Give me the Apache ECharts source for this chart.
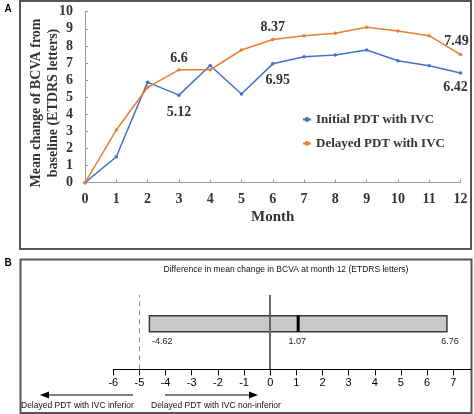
<!DOCTYPE html>
<html>
<head>
<meta charset="utf-8">
<script src="https://cdn.jsdelivr.net/npm/echarts@6/dist/echarts.min.js"></script>
<style>
html,body{margin:0;padding:0;background:#fff;}
#chart{width:474px;height:414px;}
</style>
</head>
<body>
<div id="chart"></div>
<script>
// ---- Panel A data ----
const months = [0,1,2,3,4,5,6,7,8,9,10,11,12];
const initialPDT = [0, 1.52, 5.88, 5.12, 6.85, 5.19, 6.95, 7.37, 7.47, 7.76, 7.13, 6.84, 6.42];
const delayedPDT = [0, 3.08, 5.58, 6.6, 6.6, 7.76, 8.37, 8.6, 8.74, 9.09, 8.87, 8.6, 7.49];
const seriesNames = ['Initial PDT with IVC', 'Delayed PDT with IVC'];
const labelledMonths = [3, 6, 12];
const yTitleA = 'Mean change of BCVA from\nbaseline (ETDRS letters)';
const xTitleA = 'Month';
// ---- Panel B data ----
const ciLower = -4.62;
const ciUpper = 6.76;
const meanDiff = 1.07;
const nonInferiorityMargin = -5;
const diffTicks = [-6,-5,-4,-3,-2,-1,0,1,2,3,4,5,6,7];
const panelBTitle = 'Difference in mean change in BCVA at month 12 (ETDRS letters)';
const leftArrowText = 'Delayed PDT with IVC inferior';
const rightArrowText = 'Delayed PDT with IVC non-inferior';

const SERIF = "'Liberation Serif', 'DejaVu Serif', serif";
const SANS = "'Liberation Sans', Arial, sans-serif";

// label placement per series (style/layout, not data)
const labelLayoutInitial = {
  3: {position: 'bottom', distance: 8, offset: [0, 0]},
  6: {position: 'bottom', distance: 8, offset: [5, 0]},
  12: {position: 'bottom', distance: 6, offset: [-5, 0]}
};
const labelLayoutDelayed = {
  3: {position: 'top', distance: 3, offset: [0, 0]},
  6: {position: 'top', distance: 3, offset: [0, 0]},
  12: {position: 'top', distance: 4, offset: [-4, 0]}
};

function buildLineData(values, layout) {
  return months.map((m, i) => {
    const item = {value: [m, values[i]]};
    if (labelledMonths.indexOf(m) >= 0) {
      const l = layout[m];
      item.label = {
        show: true, position: l.position, distance: l.distance, offset: l.offset,
        formatter: (p) => String(p.value[1]),
        fontFamily: SERIF, fontWeight: 'bold', fontSize: 14, color: '#333'
      };
    }
    return item;
  });
}

const chart = echarts.init(document.getElementById('chart'), null, {renderer: 'canvas'});

const option = {
  animation: false,
  backgroundColor: '#fff',
  title: {
    text: panelBTitle,
    left: 281, top: 260, textAlign: 'center',
    textStyle: {fontFamily: SANS, fontSize: 8.5, fontWeight: 'normal', color: '#111'}
  },
  legend: {
    data: seriesNames,
    orient: 'vertical',
    left: 297, top: 108,
    itemWidth: 8, itemHeight: 6, itemGap: 11,
    textStyle: {fontFamily: SERIF, fontWeight: 'bold', fontSize: 13, color: '#333'}
  },
  grid: [
    {left: 85, top: 11.7, width: 375.5, height: 171},
    {left: 113.3, right: 3, top: 295, bottom: 44.7}
  ],
  xAxis: [
    {
      gridIndex: 0, type: 'value', min: 0, max: 12, interval: 1,
      name: xTitleA, nameLocation: 'middle', nameGap: 27,
      nameTextStyle: {fontFamily: SERIF, fontWeight: 'bold', fontSize: 15, color: '#333'},
      axisLine: {lineStyle: {color: '#999', width: 1}},
      axisTick: {inside: true, length: 3, lineStyle: {color: '#999'}},
      axisLabel: {margin: 10, fontFamily: SERIF, fontWeight: 'bold', fontSize: 14, color: '#333'},
      splitLine: {show: false}
    },
    {
      gridIndex: 1, type: 'value', min: -6, max: 7.68,
      axisLine: {onZero: false, lineStyle: {color: '#000', width: 1}},
      axisTick: {inside: false, length: 6, customValues: diffTicks, lineStyle: {color: '#000'}},
      axisLabel: {margin: 8, customValues: diffTicks, fontFamily: SANS, fontSize: 11, color: '#000'},
      splitLine: {show: false}
    }
  ],
  yAxis: [
    {
      gridIndex: 0, type: 'value', min: 0, max: 10, interval: 1,
      axisLine: {show: true, lineStyle: {color: '#999', width: 1}},
      axisTick: {show: true, inside: true, length: 3, lineStyle: {color: '#999'}},
      axisLabel: {margin: 12, fontFamily: SERIF, fontWeight: 'bold', fontSize: 14, color: '#333'},
      splitLine: {show: false}
    },
    {gridIndex: 1, type: 'value', min: 0, max: 1, show: false}
  ],
  series: [
    {
      name: seriesNames[0], type: 'line', xAxisIndex: 0, yAxisIndex: 0,
      data: buildLineData(initialPDT, labelLayoutInitial),
      color: '#4472C4', lineStyle: {width: 1.5, color: '#4472C4'},
      symbol: 'circle', symbolSize: 3.5, itemStyle: {color: '#4472C4'}
    },
    {
      name: seriesNames[1], type: 'line', xAxisIndex: 0, yAxisIndex: 0,
      data: buildLineData(delayedPDT, labelLayoutDelayed),
      color: '#ED7D31', lineStyle: {width: 1.5, color: '#ED7D31'},
      symbol: 'circle', symbolSize: 3.5, itemStyle: {color: '#ED7D31'}
    },
    {
      type: 'line', xAxisIndex: 1, yAxisIndex: 1, data: [], silent: true,
      markLine: {
        silent: true, symbol: 'none', animation: false,
        label: {show: false},
        data: [
          {xAxis: 0, lineStyle: {color: '#666', width: 2, type: 'solid'}},
          {xAxis: nonInferiorityMargin, lineStyle: {color: '#888', width: 1, type: [5, 4]}}
        ]
      }
    },
    {
      type: 'custom', xAxisIndex: 1, yAxisIndex: 1,
      data: [[ciLower, ciUpper, meanDiff]],
      renderItem: function (params, api) {
        const cs = params.coordSys;
        const lo = api.coord([api.value(0), 0])[0];
        const hi = api.coord([api.value(1), 0])[0];
        const mid = api.coord([api.value(2), 0])[0];
        const yc = cs.y + cs.height * 0.386;
        const h = 16;
        const txt = {fontFamily: SANS, fontSize: 9, fill: '#222', verticalAlign: 'middle'};
        return {
          type: 'group',
          children: [
            {type: 'rect', shape: {x: lo, y: yc - h / 2, width: hi - lo, height: h},
             style: {fill: '#c9c9c9', stroke: '#3a3a3a', lineWidth: 1.5}},
            {type: 'line', shape: {x1: mid, y1: yc - h / 2, x2: mid, y2: yc + h / 2},
             style: {stroke: '#000', lineWidth: 3}},
            {type: 'text', x: lo + 2.5, y: yc + 18,
             style: Object.assign({text: api.value(0).toFixed(2), align: 'left'}, txt)},
            {type: 'text', x: mid - 1, y: yc + 18,
             style: Object.assign({text: api.value(2).toFixed(2), align: 'center'}, txt)},
            {type: 'text', x: hi + 3, y: yc + 18,
             style: Object.assign({text: api.value(1).toFixed(2), align: 'center'}, txt)}
          ]
        };
      }
    }
  ],
  graphic: [
    {type: 'rect', shape: {x: 20, y: 1, width: 451, height: 248}, style: {fill: 'none', stroke: '#555', lineWidth: 2}, z: 0},
    {type: 'rect', shape: {x: 20.5, y: 259.5, width: 451, height: 153.5}, style: {fill: 'none', stroke: '#555', lineWidth: 2}, z: 0},
    {type: 'text', x: 8, y: 9.5, style: {text: 'A', fontFamily: SANS, fontWeight: 'bold', fontSize: 10, fill: '#000', align: 'center', verticalAlign: 'middle'}},
    {type: 'text', x: 8, y: 263.5, style: {text: 'B', fontFamily: SANS, fontWeight: 'bold', fontSize: 10, fill: '#000', align: 'center', verticalAlign: 'middle'}},
    // y-axis title of panel A
    {type: 'text', x: 45, y: 103, rotation: Math.PI / 2,
     style: {text: yTitleA, fontFamily: SERIF, fontWeight: 'bold', fontSize: 14, lineHeight: 17, fill: '#333', align: 'center', verticalAlign: 'middle'}},
    // arrows
    {type: 'line', shape: {x1: 133, y1: 395, x2: 46, y2: 395}, style: {stroke: '#000', lineWidth: 1}},
    {type: 'polygon', shape: {points: [[40, 395], [49, 391.5], [49, 398.5]]}, style: {fill: '#000'}},
    {type: 'line', shape: {x1: 165, y1: 395, x2: 252, y2: 395}, style: {stroke: '#000', lineWidth: 1}},
    {type: 'polygon', shape: {points: [[258, 395], [249, 391.5], [249, 398.5]]}, style: {fill: '#000'}},
    {type: 'text', x: 21, y: 405.5, style: {text: leftArrowText, fontFamily: SANS, fontSize: 8.5, fill: '#111', align: 'left', verticalAlign: 'middle'}},
    {type: 'text', x: 151, y: 405.5, style: {text: rightArrowText, fontFamily: SANS, fontSize: 8.5, fill: '#111', align: 'left', verticalAlign: 'middle'}}
  ]
};

chart.setOption(option);
</script>
</body>
</html>
